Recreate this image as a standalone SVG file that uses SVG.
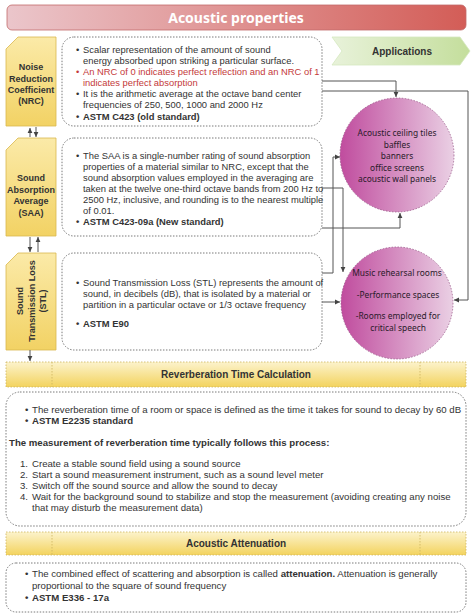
<svg xmlns="http://www.w3.org/2000/svg" width="474" height="613" viewBox="0 0 474 613">
<defs>
<linearGradient id="gt" x1="0" y1="0" x2="1" y2="0"><stop offset="0" stop-color="#ebc6cb"/><stop offset="1" stop-color="#d35d57"/></linearGradient>
<linearGradient id="gy" x1="0" y1="0" x2="0" y2="1"><stop offset="0" stop-color="#fbeaa8"/><stop offset="1" stop-color="#f2d264"/></linearGradient>
<linearGradient id="gb" x1="0" y1="0" x2="0" y2="1"><stop offset="0" stop-color="#fcf3cc"/><stop offset="1" stop-color="#f3d35e"/></linearGradient>
<linearGradient id="gg" x1="0" y1="0" x2="1" y2="0"><stop offset="0" stop-color="#e8f2da"/><stop offset="1" stop-color="#c4de9c"/></linearGradient>
<linearGradient id="gc" x1="0" y1="0" x2="1" y2="0"><stop offset="0" stop-color="#c04c9e"/><stop offset="1" stop-color="#ead0e4"/></linearGradient>
<marker id="ah" markerWidth="6" markerHeight="6" refX="5" refY="3" orient="auto" markerUnits="userSpaceOnUse"><path d="M0,0.6 L5,3 L0,5.4 Z" fill="#444"/></marker>
</defs>
<style>
.t{font-family:"Liberation Sans",Arial,sans-serif;font-size:9.4px;fill:#333}
.w{font-size:9.65px}
.b{font-weight:bold}
.red{fill:#c4393a}
.lab{font-family:"Liberation Sans",Arial,sans-serif;font-size:9px;font-weight:bold;fill:#333;text-anchor:middle}
.desc{fill:#fff;stroke:#7a7a7a;stroke-width:1;stroke-dasharray:1.5 1.5}
.ybox{fill:url(#gy);stroke:#d9b84e;stroke-width:0.8}
.bar{fill:url(#gb);stroke:#cdb45e;stroke-width:0.8;stroke-dasharray:1.5 1.5}
.div{stroke:#cdb45e;stroke-width:0.8;stroke-dasharray:1.5 1.5}
.bt{font-family:"Liberation Sans",Arial,sans-serif;font-size:10px;font-weight:bold;fill:#333;text-anchor:middle}
.conn path{fill:none;stroke:#555;stroke-width:1}
.circ{fill:url(#gc);stroke:#9a5a8a;stroke-width:0.8;stroke-dasharray:1.5 1.5}
.ct{font-family:"Noto Sans","DejaVu Sans",sans-serif;font-size:8.4px;fill:#2a1a2a;text-anchor:middle}
</style>

<g id="title">
<rect x="7" y="5" width="459" height="25" rx="5" fill="url(#gt)" stroke="#c26a6a" stroke-width="0.8"/>
<text x="236" y="23" font-family="Noto Sans, sans-serif" font-size="14" font-weight="bold" fill="#fff" text-anchor="middle">Acoustic properties</text>
</g>

<g id="nrc">
<path class="ybox" d="M18,37 H56 V126 H6 V49 Z"/>
<text class="lab" x="31" y="70">Noise</text>
<text class="lab" x="31" y="82">Reduction</text>
<text class="lab" x="31" y="93">Coefficient</text>
<text class="lab" x="31" y="104">(NRC)</text>
</g>
<g id="saa">
<path class="ybox" d="M18,138 H56 V236 H6 V150 Z"/>
<text class="lab" x="31" y="181">Sound</text>
<text class="lab" x="31" y="193">Absorption</text>
<text class="lab" x="31" y="204">Average</text>
<text class="lab" x="31" y="216">(SAA)</text>
</g>
<g id="stl">
<path class="ybox" d="M18,253 H56 V350 H6 V265 Z"/>
<g transform="translate(31,301) rotate(-90)">
<text class="lab" x="0" y="-8">Sound</text>
<text class="lab" x="0" y="3.5">Transmission Loss</text>
<text class="lab" x="0" y="15">(STL)</text>
</g>
</g>

<g id="nrc-desc">
<rect class="desc" x="62" y="37" width="260" height="89" rx="12"/>
<text class="t" x="76" y="53">•</text><text class="t" x="83" y="53">Scalar representation of the amount of sound</text>
<text class="t" x="83" y="64">energy absorbed upon striking a particular surface.</text>
<text class="t red" x="76" y="75">•</text><text class="t red" x="83" y="75">An NRC of 0 indicates perfect reflection and an NRC of 1</text>
<text class="t red" x="83" y="86">indicates perfect absorption</text>
<text class="t" x="76" y="97">•</text><text class="t" x="83" y="97">It is the arithmetic average at the octave band center</text>
<text class="t" x="83" y="108">frequencies of 250, 500, 1000 and 2000 Hz</text>
<text class="t b" x="76" y="120">•</text><text class="t b" x="83" y="120">ASTM C423 (old standard)</text>
</g>

<g id="saa-desc">
<rect class="desc" x="62" y="138" width="260" height="98" rx="12"/>
<text class="t" x="76" y="159">•</text><text class="t" x="83" y="159">The SAA is a single-number rating of sound absorption</text>
<text class="t" x="83" y="170">properties of a material similar to NRC, except that the</text>
<text class="t" x="83" y="181">sound absorption values employed in the averaging are</text>
<text class="t" x="83" y="192">taken at the twelve one-third octave bands from 200 Hz to</text>
<text class="t" x="83" y="203">2500 Hz, inclusive, and rounding is to the nearest multiple</text>
<text class="t" x="83" y="214">of 0.01.</text>
<text class="t b" x="76" y="225">•</text><text class="t b" x="83" y="225">ASTM C423-09a (New standard)</text>
</g>

<g id="stl-desc">
<rect class="desc" x="62" y="253" width="260" height="97" rx="12"/>
<text class="t" x="76" y="286">•</text><text class="t" x="83" y="286">Sound Transmission Loss (STL) represents the amount of</text>
<text class="t" x="83" y="297">sound, in decibels (dB), that is isolated by a material or</text>
<text class="t" x="83" y="308">partition in a particular octave or 1/3 octave frequency</text>
<text class="t b" x="76" y="327">•</text><text class="t b" x="83" y="327">ASTM E90</text>
</g>

<g id="applications">
<path d="M332,37 H460 L470,51 L460,65 H332 L342,51 Z" fill="url(#gg)" stroke="#d6e8c0" stroke-width="0.8"/>
<text class="bt" x="402" y="55">Applications</text>
</g>

<g id="app-circle1">
<circle class="circ" cx="397" cy="155" r="57"/>
<text class="ct" x="397" y="136">Acoustic ceiling tiles</text>
<text class="ct" x="397" y="147.5">baffles</text>
<text class="ct" x="397" y="159">banners</text>
<text class="ct" x="397" y="170.5">office screens</text>
<text class="ct" x="397" y="182">acoustic wall panels</text>
</g>

<g id="app-circle2">
<circle class="circ" cx="397" cy="303" r="56"/>
<text class="ct" x="397" y="276">Music rehearsal rooms</text>
<text class="ct" x="398" y="298">-Performance spaces</text>
<text class="ct" x="398" y="319">-Rooms employed for</text>
<text class="ct" x="398" y="331">critical speech</text>
</g>

<g id="connectors" class="conn">
<path d="M322,81 H396 V97" marker-end="url(#ah)"/>
<path d="M322,91 H468 V300 H454" marker-end="url(#ah)"/>
<path d="M322,188 H343 V272" marker-end="url(#ah)"/>
<path d="M322,228 H400 V213" marker-end="url(#ah)"/>
<path d="M322,273 H333 V157 H340" marker-end="url(#ah)"/>
<path d="M322,302 H340" marker-end="url(#ah)"/>
<path d="M30,137 V128" marker-end="url(#ah)"/>
<path d="M36,127 V137" marker-end="url(#ah)"/>
<path d="M30,237 V252" marker-end="url(#ah)"/>
<path d="M38,252 V237" marker-end="url(#ah)"/>
<path d="M30,350 V361" marker-end="url(#ah)"/>
</g>

<g id="reverb-bar">
<rect class="bar" x="6" y="362" width="460" height="25"/>
<line class="div" x1="52" y1="362" x2="52" y2="387"/>
<line class="div" x1="420" y1="362" x2="420" y2="387"/>
<text class="bt" x="236" y="378">Reverberation Time Calculation</text>
</g>

<g id="reverb-desc">
<rect class="desc" x="6" y="392" width="460" height="134" rx="14"/>
<text class="t w" x="25" y="413">•</text><text class="t w" x="32" y="413">The reverberation time of a room or space is defined as the time it takes for sound to decay by 60 dB</text>
<text class="t w b" x="25" y="424">•</text><text class="t w b" x="32" y="424">ASTM E2235 standard</text>
<text class="t w b" x="9" y="446">The measurement of reverberation time typically follows this process:</text>
<text class="t w" x="20" y="467">1.</text><text class="t w" x="32" y="467">Create a stable sound field using a sound source</text>
<text class="t w" x="20" y="478">2.</text><text class="t w" x="32" y="478">Start a sound measurement instrument, such as a sound level meter</text>
<text class="t w" x="20" y="489">3.</text><text class="t w" x="32" y="489">Switch off the sound source and allow the sound to decay</text>
<text class="t w" x="20" y="500">4.</text><text class="t w" x="32" y="500">Wait for the background sound to stabilize and stop the measurement (avoiding creating any noise</text>
<text class="t w" x="32" y="511">that may disturb the measurement data)</text>
</g>

<g id="atten-bar">
<rect class="bar" x="6" y="532" width="460" height="23"/>
<line class="div" x1="52" y1="532" x2="52" y2="555"/>
<line class="div" x1="420" y1="532" x2="420" y2="555"/>
<text class="bt" x="236" y="547">Acoustic Attenuation</text>
</g>

<g id="atten-desc">
<rect class="desc" x="6" y="563" width="460" height="49" rx="10"/>
<text class="t w" x="25" y="577">•</text><text class="t w" x="32" y="577">The combined effect of scattering and absorption is called <tspan class="b">attenuation.</tspan> Attenuation is generally</text>
<text class="t w" x="32" y="589">proportional to the square of sound frequency</text>
<text class="t w b" x="25" y="601">•</text><text class="t w b" x="32" y="601">ASTM E336 - 17a</text>
</g>
</svg>
